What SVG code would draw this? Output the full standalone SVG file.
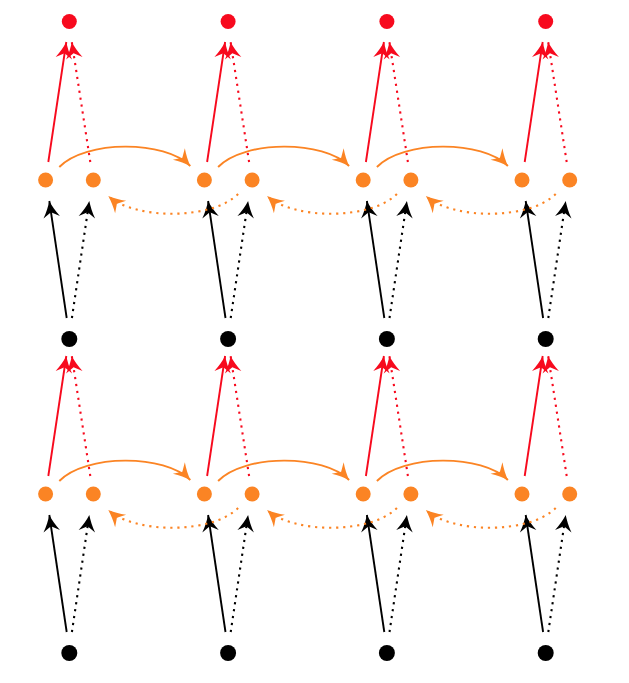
<svg xmlns="http://www.w3.org/2000/svg" xmlns:xlink="http://www.w3.org/1999/xlink" width="629" height="683" viewBox="0 0 629 683">
<style>
.e{fill:none;stroke-width:1.9}
.d{stroke-dasharray:2.2 4.8;stroke-width:2.1}
.r{stroke:#f70a1e;marker-end:url(#ar)}
.k{stroke:#000;marker-end:url(#ak)}
.o{stroke:#fb8424;marker-end:url(#ao)}
.nr{fill:#f70a1e}
.no{fill:#fb8424}
.nk{fill:#000}
</style>
<defs>
<marker id="ar" markerUnits="userSpaceOnUse" markerWidth="22" markerHeight="22" viewBox="-19 -11 22 22" refX="0" refY="0" orient="auto"><path d="M0,0 C-5,-1.8 -11,-4.6 -16.5,-8.3 L-11.5,0 L-16.5,8.3 C-11,4.6 -5,1.8 0,0 Z" fill="#f70a1e"/></marker>
<marker id="ak" markerUnits="userSpaceOnUse" markerWidth="22" markerHeight="22" viewBox="-19 -11 22 22" refX="0" refY="0" orient="auto"><path d="M0,0 C-5,-1.8 -11,-4.6 -16.5,-8.3 L-11.5,0 L-16.5,8.3 C-11,4.6 -5,1.8 0,0 Z" fill="#000"/></marker>
<marker id="ao" markerUnits="userSpaceOnUse" markerWidth="22" markerHeight="22" viewBox="-19 -11 22 22" refX="0" refY="0" orient="auto"><path d="M0,0 C-5,-1.8 -11,-4.6 -16.5,-8.3 L-11.5,0 L-16.5,8.3 C-11,4.6 -5,1.8 0,0 Z" fill="#fb8424"/></marker>
</defs>
<g id="connectors">
<!-- column 1 -->
<path class="e r" d="M48.3,162 L66.3,42"/>
<path class="e r d" d="M90.3,162 L71.8,42"/>
<path class="e k" d="M66.7,318 L49.3,201"/>
<path class="e k d" d="M71.9,318 L89.3,201"/>
<path class="e r" d="M48.3,476 L66.3,356"/>
<path class="e r d" d="M90.3,476 L71.8,356"/>
<path class="e k" d="M66.7,632 L49.3,515"/>
<path class="e k d" d="M71.9,632 L89.3,515"/>
<!-- column 2 -->
<path class="e r" d="M207.1,162 L225.1,42"/>
<path class="e r d" d="M249.1,162 L230.6,42"/>
<path class="e k" d="M225.5,318 L208.1,201"/>
<path class="e k d" d="M230.7,318 L248.1,201"/>
<path class="e r" d="M207.1,476 L225.1,356"/>
<path class="e r d" d="M249.1,476 L230.6,356"/>
<path class="e k" d="M225.5,632 L208.1,515"/>
<path class="e k d" d="M230.7,632 L248.1,515"/>
<!-- column 3 -->
<path class="e r" d="M365.9,162 L383.9,42"/>
<path class="e r d" d="M407.9,162 L389.4,42"/>
<path class="e k" d="M384.3,318 L366.9,201"/>
<path class="e k d" d="M389.5,318 L406.9,201"/>
<path class="e r" d="M365.9,476 L383.9,356"/>
<path class="e r d" d="M407.9,476 L389.4,356"/>
<path class="e k" d="M384.3,632 L366.9,515"/>
<path class="e k d" d="M389.5,632 L406.9,515"/>
<!-- column 4 -->
<path class="e r" d="M524.7,162 L542.7,42"/>
<path class="e r d" d="M566.7,162 L548.2,42"/>
<path class="e k" d="M543.1,318 L525.7,201"/>
<path class="e k d" d="M548.3,318 L565.7,201"/>
<path class="e r" d="M524.7,476 L542.7,356"/>
<path class="e r d" d="M566.7,476 L548.2,356"/>
<path class="e k" d="M543.1,632 L525.7,515"/>
<path class="e k d" d="M548.3,632 L565.7,515"/>
<!-- recurrent forward -->
<path class="e o" d="M59.3,167 C85.3,140 165.3,140 190.3,166"/>
<path class="e o" d="M218.1,167 C244.1,140 324.1,140 349.1,166"/>
<path class="e o" d="M376.9,167 C402.9,140 482.9,140 507.9,166"/>
<path class="e o" d="M59.3,481 C85.3,454 165.3,454 190.3,480"/>
<path class="e o" d="M218.1,481 C244.1,454 324.1,454 349.1,480"/>
<path class="e o" d="M376.9,481 C402.9,454 482.9,454 507.9,480"/>
<!-- recurrent backward -->
<path class="e o d" d="M238.1,194 C212.1,220 135.3,220 108.3,196"/>
<path class="e o d" d="M396.9,194 C370.9,220 294.1,220 267.1,196"/>
<path class="e o d" d="M555.7,194 C529.7,220 452.9,220 425.9,196"/>
<path class="e o d" d="M238.1,508 C212.1,534 135.3,534 108.3,510"/>
<path class="e o d" d="M396.9,508 C370.9,534 294.1,534 267.1,510"/>
<path class="e o d" d="M555.7,508 C529.7,534 452.9,534 425.9,510"/>
</g>
<g id="y1"><circle class="nr" cx="69.3" cy="21.5" r="7.5"/></g>
<g id="y2"><circle class="nr" cx="228.1" cy="21.5" r="7.5"/></g>
<g id="y3"><circle class="nr" cx="386.9" cy="21.5" r="7.5"/></g>
<g id="y4"><circle class="nr" cx="545.7" cy="21.5" r="7.5"/></g>
<g id="h2f1"><circle class="no" cx="45.6" cy="180" r="7.5"/></g>
<g id="h2b1"><circle class="no" cx="93.3" cy="180" r="7.5"/></g>
<g id="h2f2"><circle class="no" cx="204.4" cy="180" r="7.5"/></g>
<g id="h2b2"><circle class="no" cx="252.1" cy="180" r="7.5"/></g>
<g id="h2f3"><circle class="no" cx="363.2" cy="180" r="7.5"/></g>
<g id="h2b3"><circle class="no" cx="410.9" cy="180" r="7.5"/></g>
<g id="h2f4"><circle class="no" cx="522" cy="180" r="7.5"/></g>
<g id="h2b4"><circle class="no" cx="569.7" cy="180" r="7.5"/></g>
<g id="m1"><circle class="nk" cx="69.3" cy="339" r="8"/></g>
<g id="m2"><circle class="nk" cx="228.1" cy="339" r="8"/></g>
<g id="m3"><circle class="nk" cx="386.9" cy="339" r="8"/></g>
<g id="m4"><circle class="nk" cx="545.7" cy="339" r="8"/></g>
<g id="h1f1"><circle class="no" cx="45.6" cy="494" r="7.5"/></g>
<g id="h1b1"><circle class="no" cx="93.3" cy="494" r="7.5"/></g>
<g id="h1f2"><circle class="no" cx="204.4" cy="494" r="7.5"/></g>
<g id="h1b2"><circle class="no" cx="252.1" cy="494" r="7.5"/></g>
<g id="h1f3"><circle class="no" cx="363.2" cy="494" r="7.5"/></g>
<g id="h1b3"><circle class="no" cx="410.9" cy="494" r="7.5"/></g>
<g id="h1f4"><circle class="no" cx="522" cy="494" r="7.5"/></g>
<g id="h1b4"><circle class="no" cx="569.7" cy="494" r="7.5"/></g>
<g id="x1"><circle class="nk" cx="69.3" cy="653" r="8"/></g>
<g id="x2"><circle class="nk" cx="228.1" cy="653" r="8"/></g>
<g id="x3"><circle class="nk" cx="386.9" cy="653" r="8"/></g>
<g id="x4"><circle class="nk" cx="545.7" cy="653" r="8"/></g>
</svg>
